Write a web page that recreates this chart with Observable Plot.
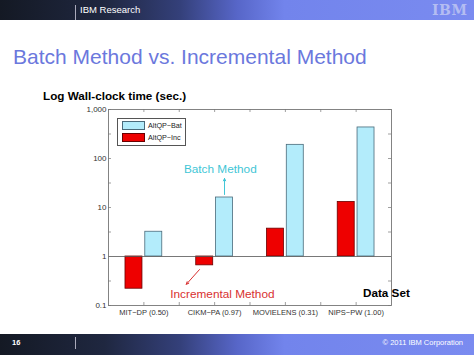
<!DOCTYPE html>
<html>
<head>
<meta charset="utf-8">
<script src="https://cdn.jsdelivr.net/npm/d3@7"></script>
<script src="https://cdn.jsdelivr.net/npm/@observablehq/plot@0.6"></script>
<style>
  html, body { margin: 0; padding: 0; background: #fff; }
  body { width: 474px; height: 355px; position: relative; overflow: hidden; font-family: "Liberation Sans", Arial, sans-serif; }
  .bar { position: absolute; left: 0; width: 474px;
    background: linear-gradient(90deg, #141924 0%, #1f2740 22%, #34407a 38%, #5766c8 50%, #7284ec 60%, #7a8bf0 100%); }
  .abs { position: absolute; white-space: nowrap; }
</style>
</head>
<body>
<div class="bar" style="top:0;height:20px;"></div>
<div class="abs" style="left:75px;top:5px;width:1px;height:15px;background:#aab;"></div>
<div class="abs" style="left:80px;top:4px;font-size:9.5px;color:#fff;">IBM Research</div>
<div class="abs" style="left:432px;top:2px;font-size:14px;font-weight:bold;color:#b4bdf2;font-family:'DejaVu Serif',serif;letter-spacing:0.5px;">IBM</div>

<div class="abs" style="left:13px;top:45px;font-size:21px;color:#6b78dd;">Batch Method vs. Incremental Method</div>
<div class="abs" style="left:43px;top:89px;font-size:11.7px;font-weight:bold;color:#000;">Log Wall-clock time (sec.)</div>

<div id="chart" class="abs" style="left:0;top:100px;"></div>

<div class="abs" style="left:117px;top:118px;width:67px;height:26px;border:1px solid #555;background:#fff;"></div>
<div class="abs" style="left:122px;top:121px;width:21px;height:7px;border:1px solid #4a6a7a;background:#b3ecfb;"></div>
<div class="abs" style="left:122px;top:133px;width:21px;height:7px;border:1px solid #6a0000;background:#ee0000;"></div>
<div class="abs" id="leg1" style="left:148px;top:120.5px;font-size:7.2px;color:#222;"></div>
<div class="abs" id="leg2" style="left:148px;top:132.5px;font-size:7.2px;color:#222;"></div>

<div class="abs" style="left:363px;top:286px;font-size:11.7px;font-weight:bold;color:#000;">Data Set</div>

<div class="bar" style="top:334px;height:21px;"></div>
<div class="abs" style="left:75px;top:337px;width:1px;height:12px;background:#aab;"></div>
<div class="abs" style="left:12px;top:338px;font-size:7.5px;font-weight:bold;color:#fff;">16</div>
<div class="abs" style="right:11px;top:338px;font-size:7.5px;color:#fff;">© 2011 IBM Corporation</div>

<script>
const categories = ["MIT−DP (0.50)", "CIKM−PA (0.97)", "MOVIELENS (0.31)", "NIPS−PW (1.00)"];
const incValues = [0.22, 0.66, 3.7, 13];
const batValues = [3.2, 16, 190, 430];
const seriesNames = ["AltQP−Bat", "AltQP−Inc"];
const yTickValues = [0.1, 1, 10, 100, 1000];
const yTickLabels = ["0.1", "1", "10", "100", "1,000"];
const yMinorTicks = [0.1, 0.316, 1, 3.16, 10, 31.6, 100, 316, 1000];
const annotations = ["Batch Method", "Incremental Method"];

document.getElementById("leg1").textContent = seriesNames[0];
document.getElementById("leg2").textContent = seriesNames[1];

const rows = categories.flatMap((c, i) => [
  {cat: c, pos: i + 1, series: "Inc", v: incValues[i]},
  {cat: c, pos: i + 1, series: "Bat", v: batValues[i]}
]);
const incRows = rows.filter(d => d.series === "Inc");
const batRows = rows.filter(d => d.series === "Bat");
const xTicks = [1, 1.5, 2, 2.5, 3, 3.5, 4];
const W = 474, H = 225, mL = 108, mR = 83, mT = 9, mB = 20;
const pw = W - mL - mR, ph = H - mT - mB;

const cikmBat = batRows[1], cikmInc = incRows[1];

const chart = Plot.plot({
  width: W, height: H,
  marginLeft: mL, marginRight: mR, marginTop: mT, marginBottom: mB,
  style: {fontFamily: "'Liberation Sans', Arial, sans-serif", background: "transparent", overflow: "visible"},
  x: {type: "linear", domain: [0.5, 4.5]},
  y: {type: "log", domain: [0.1, 1000]},
  marks: [
    Plot.rect(incRows, {x1: d => d.pos - 0.26, x2: d => d.pos - 0.02, y1: d => 1, y2: d => d.v, fill: "#ee0000", stroke: "#6a0000", strokeWidth: 0.8}),
    Plot.rect(batRows, {x1: d => d.pos + 0.02, x2: d => d.pos + 0.26, y1: d => 1, y2: d => d.v, fill: "#b3ecfb", stroke: "#4a6a7a", strokeWidth: 0.8}),
    Plot.ruleY([1], {stroke: "#555", strokeWidth: 0.8}),
    Plot.tickY(yMinorTicks, {y: d => d, insetRight: pw - 3, stroke: "#777", strokeWidth: 0.7}),
    Plot.tickY(yMinorTicks, {y: d => d, insetLeft: pw - 3, stroke: "#777", strokeWidth: 0.7}),
    Plot.tickX(xTicks, {x: d => d, insetBottom: ph - 3, stroke: "#777", strokeWidth: 0.7}),
    Plot.tickX(xTicks, {x: d => d, insetTop: ph - 3, stroke: "#777", strokeWidth: 0.7}),
    Plot.frame({stroke: "#777", strokeWidth: 0.9}),
    Plot.axisY({ticks: yTickValues, tickFormat: d => yTickLabels[yTickValues.indexOf(d)], tickSize: 0, tickPadding: 2, fontSize: 8, fill: "#333", label: null}),
    Plot.axisX({ticks: [1, 2, 3, 4], tickFormat: d => categories[d - 1], tickSize: 0, tickPadding: 4, fontSize: 7.5, fill: "#333", label: null}),
    Plot.arrow([cikmBat], {x1: d => d.pos + 0.14, x2: d => d.pos + 0.14, y1: d => d.v * 1.15, y2: d => d.v * 2.45, stroke: "#3fc6d6", strokeWidth: 1, headLength: 4, headAngle: 50}),
    Plot.text([cikmBat], {x: d => d.pos + 0.08, y: d => d.v * 3.75, text: () => annotations[0], fill: "#3fc6d6", fontSize: 11.8}),
    Plot.arrow([cikmInc], {x1: d => d.pos - 0.214, x2: d => d.pos - 0.40, y1: d => d.v * 0.82, y2: d => d.v * 0.41, stroke: "#d83030", strokeWidth: 1, headLength: 4, headAngle: 50}),
    Plot.text([cikmInc], {x: d => d.pos + 0.11, y: d => d.v * 0.255, text: () => annotations[1], fill: "#d83030", fontSize: 11.8})
  ]
});
document.getElementById("chart").appendChild(chart);
</script>
</body>
</html>
